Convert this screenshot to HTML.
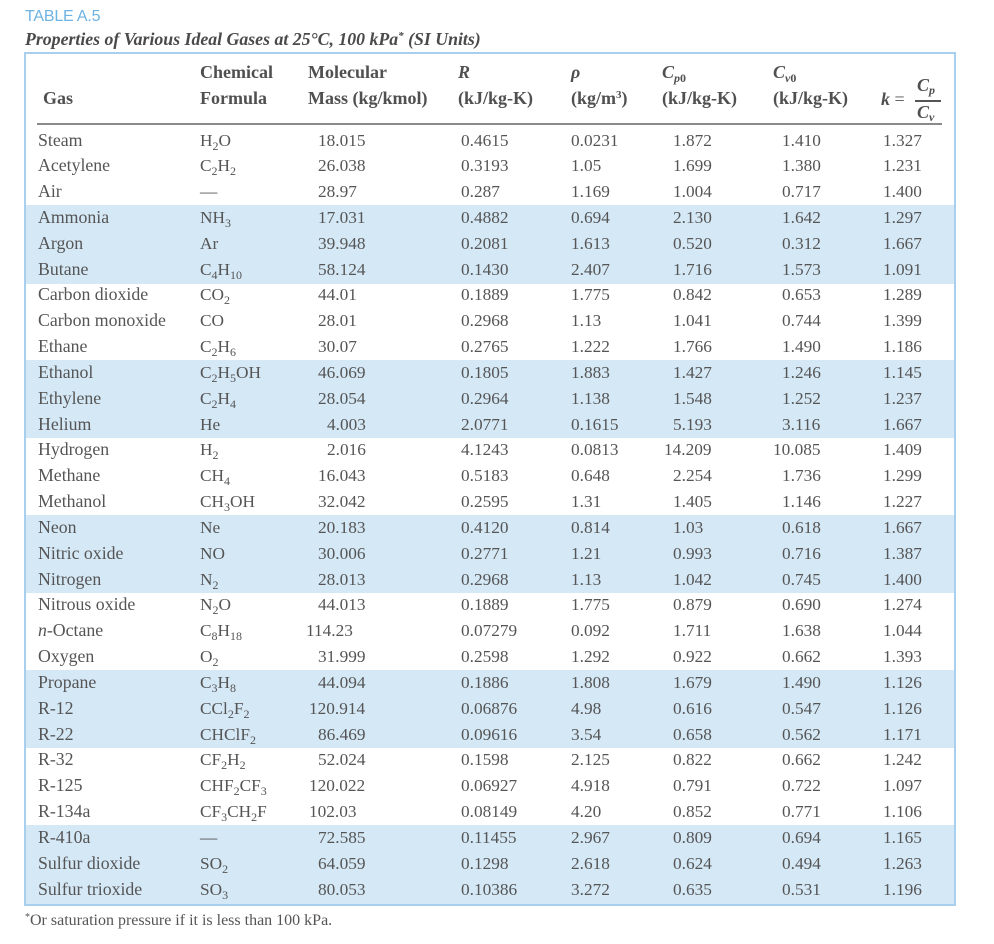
<!DOCTYPE html>
<html><head><meta charset="utf-8">
<style>
html,body{margin:0;padding:0;background:#fff;}
body{width:994px;height:944px;position:relative;overflow:hidden;font-family:"Liberation Serif","DejaVu Serif",serif;color:#555;}
.t1{position:absolute;left:25px;top:7px;font-family:"Liberation Sans",sans-serif;font-size:16px;color:#6db3e3;letter-spacing:-0.2px;line-height:20px;}
.t2{position:absolute;left:25px;top:28px;font-size:17.8px;font-weight:bold;font-style:italic;color:#4a4a4a;line-height:22px;white-space:nowrap;}
.t2 sup{font-size:11px;position:relative;top:-6px;vertical-align:baseline;}
.box{position:absolute;left:24px;top:52px;width:928px;height:850px;border:2px solid #a9cfee;}
.band{position:absolute;left:26px;width:928px;background:#d5e8f6;}
.rule{position:absolute;left:37px;top:123px;width:905px;height:2px;background:#8a8a8a;}
.h{position:absolute;font-weight:bold;font-size:18px;color:#505050;white-space:nowrap;line-height:22px;}
.h i{font-style:italic;}
.h sub{font-size:12px;position:relative;top:4px;vertical-align:baseline;}
.rows{position:absolute;left:0;top:127.5px;width:994px;}
.r{position:relative;height:25.83px;}
.r span{position:absolute;top:0;line-height:25.83px;font-size:17.3px;white-space:nowrap;}
.r span.c1{font-size:17.8px;}
.r sub{font-size:12px;position:relative;top:4px;vertical-align:baseline;line-height:0;}
.c1{left:38px}.c2{left:200px}.m1{left:327px}.m2{left:318px}.m3{left:309px}.m4{left:306px}
.c4{left:461px}.c5{left:571px}.c6{left:673px}.c6w{left:664px}.c7{left:782px}.c7w{left:773px}.c8{left:883px}
.foot{position:absolute;left:25px;top:911px;font-size:16px;color:#555;white-space:nowrap;line-height:20px;}
.foot sup{font-size:10px;position:relative;top:-5px;vertical-align:baseline;}
</style></head><body>
<div class="t1">TABLE A.5</div>
<div class="t2">Properties of Various Ideal Gases at 25°C, 100 kPa<sup>*</sup> (SI Units)</div>

<div class="band" style="top:205px;height:78.5px"></div>
<div class="band" style="top:360px;height:77.5px"></div>
<div class="band" style="top:515px;height:77.5px"></div>
<div class="band" style="top:670px;height:77.5px"></div>
<div class="band" style="top:825px;height:79px"></div>
<div class="box"></div>

<div class="h" style="left:200px;top:61px">Chemical</div>
<div class="h" style="left:308px;top:61px">Molecular</div>
<div class="h" style="left:458px;top:61px"><i>R</i></div>
<div class="h" style="left:571px;top:61px"><i>ρ</i></div>
<div class="h" style="left:662px;top:61px"><i>C</i><sub><i>p</i>0</sub></div>
<div class="h" style="left:773px;top:61px"><i>C</i><sub><i>v</i>0</sub></div>

<div class="h" style="left:43px;top:87px">Gas</div>
<div class="h" style="left:200px;top:87px">Formula</div>
<div class="h" style="left:308px;top:87px">Mass (kg/kmol)</div>
<div class="h" style="left:458px;top:87px">(kJ/kg-K)</div>
<div class="h" style="left:571px;top:87px">(kg/m<sup style="font-size:11px;position:relative;top:-6px;vertical-align:baseline">3</sup>)</div>
<div class="h" style="left:662px;top:87px">(kJ/kg-K)</div>
<div class="h" style="left:773px;top:87px">(kJ/kg-K)</div>
<div class="h" style="left:881px;top:88px"><i>k</i> <span style="font-weight:normal">=</span></div>
<div class="h" style="left:917px;top:74px"><i>C</i><sub style="top:3px"><i>p</i></sub></div>
<div style="position:absolute;left:915px;top:100px;width:26px;height:1.5px;background:#555"></div>
<div class="h" style="left:917px;top:101px"><i>C</i><sub style="top:3px"><i>v</i></sub></div>

<div class="rule"></div>

<div class="rows">
<div class="r"><span class="c1">Steam</span><span class="c2">H<sub>2</sub>O</span><span class="m2">18.015</span><span class="c4">0.4615</span><span class="c5">0.0231</span><span class="c6">1.872</span><span class="c7">1.410</span><span class="c8">1.327</span></div>
<div class="r"><span class="c1">Acetylene</span><span class="c2">C<sub>2</sub>H<sub>2</sub></span><span class="m2">26.038</span><span class="c4">0.3193</span><span class="c5">1.05</span><span class="c6">1.699</span><span class="c7">1.380</span><span class="c8">1.231</span></div>
<div class="r"><span class="c1">Air</span><span class="c2">—</span><span class="m2">28.97</span><span class="c4">0.287</span><span class="c5">1.169</span><span class="c6">1.004</span><span class="c7">0.717</span><span class="c8">1.400</span></div>
<div class="r"><span class="c1">Ammonia</span><span class="c2">NH<sub>3</sub></span><span class="m2">17.031</span><span class="c4">0.4882</span><span class="c5">0.694</span><span class="c6">2.130</span><span class="c7">1.642</span><span class="c8">1.297</span></div>
<div class="r"><span class="c1">Argon</span><span class="c2">Ar</span><span class="m2">39.948</span><span class="c4">0.2081</span><span class="c5">1.613</span><span class="c6">0.520</span><span class="c7">0.312</span><span class="c8">1.667</span></div>
<div class="r"><span class="c1">Butane</span><span class="c2">C<sub>4</sub>H<sub>10</sub></span><span class="m2">58.124</span><span class="c4">0.1430</span><span class="c5">2.407</span><span class="c6">1.716</span><span class="c7">1.573</span><span class="c8">1.091</span></div>
<div class="r"><span class="c1">Carbon dioxide</span><span class="c2">CO<sub>2</sub></span><span class="m2">44.01</span><span class="c4">0.1889</span><span class="c5">1.775</span><span class="c6">0.842</span><span class="c7">0.653</span><span class="c8">1.289</span></div>
<div class="r"><span class="c1">Carbon monoxide</span><span class="c2">CO</span><span class="m2">28.01</span><span class="c4">0.2968</span><span class="c5">1.13</span><span class="c6">1.041</span><span class="c7">0.744</span><span class="c8">1.399</span></div>
<div class="r"><span class="c1">Ethane</span><span class="c2">C<sub>2</sub>H<sub>6</sub></span><span class="m2">30.07</span><span class="c4">0.2765</span><span class="c5">1.222</span><span class="c6">1.766</span><span class="c7">1.490</span><span class="c8">1.186</span></div>
<div class="r"><span class="c1">Ethanol</span><span class="c2">C<sub>2</sub>H<sub>5</sub>OH</span><span class="m2">46.069</span><span class="c4">0.1805</span><span class="c5">1.883</span><span class="c6">1.427</span><span class="c7">1.246</span><span class="c8">1.145</span></div>
<div class="r"><span class="c1">Ethylene</span><span class="c2">C<sub>2</sub>H<sub>4</sub></span><span class="m2">28.054</span><span class="c4">0.2964</span><span class="c5">1.138</span><span class="c6">1.548</span><span class="c7">1.252</span><span class="c8">1.237</span></div>
<div class="r"><span class="c1">Helium</span><span class="c2">He</span><span class="m1">4.003</span><span class="c4">2.0771</span><span class="c5">0.1615</span><span class="c6">5.193</span><span class="c7">3.116</span><span class="c8">1.667</span></div>
<div class="r"><span class="c1">Hydrogen</span><span class="c2">H<sub>2</sub></span><span class="m1">2.016</span><span class="c4">4.1243</span><span class="c5">0.0813</span><span class="c6w">14.209</span><span class="c7w">10.085</span><span class="c8">1.409</span></div>
<div class="r"><span class="c1">Methane</span><span class="c2">CH<sub>4</sub></span><span class="m2">16.043</span><span class="c4">0.5183</span><span class="c5">0.648</span><span class="c6">2.254</span><span class="c7">1.736</span><span class="c8">1.299</span></div>
<div class="r"><span class="c1">Methanol</span><span class="c2">CH<sub>3</sub>OH</span><span class="m2">32.042</span><span class="c4">0.2595</span><span class="c5">1.31</span><span class="c6">1.405</span><span class="c7">1.146</span><span class="c8">1.227</span></div>
<div class="r"><span class="c1">Neon</span><span class="c2">Ne</span><span class="m2">20.183</span><span class="c4">0.4120</span><span class="c5">0.814</span><span class="c6">1.03</span><span class="c7">0.618</span><span class="c8">1.667</span></div>
<div class="r"><span class="c1">Nitric oxide</span><span class="c2">NO</span><span class="m2">30.006</span><span class="c4">0.2771</span><span class="c5">1.21</span><span class="c6">0.993</span><span class="c7">0.716</span><span class="c8">1.387</span></div>
<div class="r"><span class="c1">Nitrogen</span><span class="c2">N<sub>2</sub></span><span class="m2">28.013</span><span class="c4">0.2968</span><span class="c5">1.13</span><span class="c6">1.042</span><span class="c7">0.745</span><span class="c8">1.400</span></div>
<div class="r"><span class="c1">Nitrous oxide</span><span class="c2">N<sub>2</sub>O</span><span class="m2">44.013</span><span class="c4">0.1889</span><span class="c5">1.775</span><span class="c6">0.879</span><span class="c7">0.690</span><span class="c8">1.274</span></div>
<div class="r"><span class="c1"><i>n</i>-Octane</span><span class="c2">C<sub>8</sub>H<sub>18</sub></span><span class="m4">114.23</span><span class="c4">0.07279</span><span class="c5">0.092</span><span class="c6">1.711</span><span class="c7">1.638</span><span class="c8">1.044</span></div>
<div class="r"><span class="c1">Oxygen</span><span class="c2">O<sub>2</sub></span><span class="m2">31.999</span><span class="c4">0.2598</span><span class="c5">1.292</span><span class="c6">0.922</span><span class="c7">0.662</span><span class="c8">1.393</span></div>
<div class="r"><span class="c1">Propane</span><span class="c2">C<sub>3</sub>H<sub>8</sub></span><span class="m2">44.094</span><span class="c4">0.1886</span><span class="c5">1.808</span><span class="c6">1.679</span><span class="c7">1.490</span><span class="c8">1.126</span></div>
<div class="r"><span class="c1">R-12</span><span class="c2">CCl<sub>2</sub>F<sub>2</sub></span><span class="m3">120.914</span><span class="c4">0.06876</span><span class="c5">4.98</span><span class="c6">0.616</span><span class="c7">0.547</span><span class="c8">1.126</span></div>
<div class="r"><span class="c1">R-22</span><span class="c2">CHClF<sub>2</sub></span><span class="m2">86.469</span><span class="c4">0.09616</span><span class="c5">3.54</span><span class="c6">0.658</span><span class="c7">0.562</span><span class="c8">1.171</span></div>
<div class="r"><span class="c1">R-32</span><span class="c2">CF<sub>2</sub>H<sub>2</sub></span><span class="m2">52.024</span><span class="c4">0.1598</span><span class="c5">2.125</span><span class="c6">0.822</span><span class="c7">0.662</span><span class="c8">1.242</span></div>
<div class="r"><span class="c1">R-125</span><span class="c2">CHF<sub>2</sub>CF<sub>3</sub></span><span class="m3">120.022</span><span class="c4">0.06927</span><span class="c5">4.918</span><span class="c6">0.791</span><span class="c7">0.722</span><span class="c8">1.097</span></div>
<div class="r"><span class="c1">R-134a</span><span class="c2">CF<sub>3</sub>CH<sub>2</sub>F</span><span class="m3">102.03</span><span class="c4">0.08149</span><span class="c5">4.20</span><span class="c6">0.852</span><span class="c7">0.771</span><span class="c8">1.106</span></div>
<div class="r"><span class="c1">R-410a</span><span class="c2">—</span><span class="m2">72.585</span><span class="c4">0.11455</span><span class="c5">2.967</span><span class="c6">0.809</span><span class="c7">0.694</span><span class="c8">1.165</span></div>
<div class="r"><span class="c1">Sulfur dioxide</span><span class="c2">SO<sub>2</sub></span><span class="m2">64.059</span><span class="c4">0.1298</span><span class="c5">2.618</span><span class="c6">0.624</span><span class="c7">0.494</span><span class="c8">1.263</span></div>
<div class="r"><span class="c1">Sulfur trioxide</span><span class="c2">SO<sub>3</sub></span><span class="m2">80.053</span><span class="c4">0.10386</span><span class="c5">3.272</span><span class="c6">0.635</span><span class="c7">0.531</span><span class="c8">1.196</span></div>
</div>

<div class="foot"><sup>*</sup>Or saturation pressure if it is less than 100 kPa.</div>
</body></html>
